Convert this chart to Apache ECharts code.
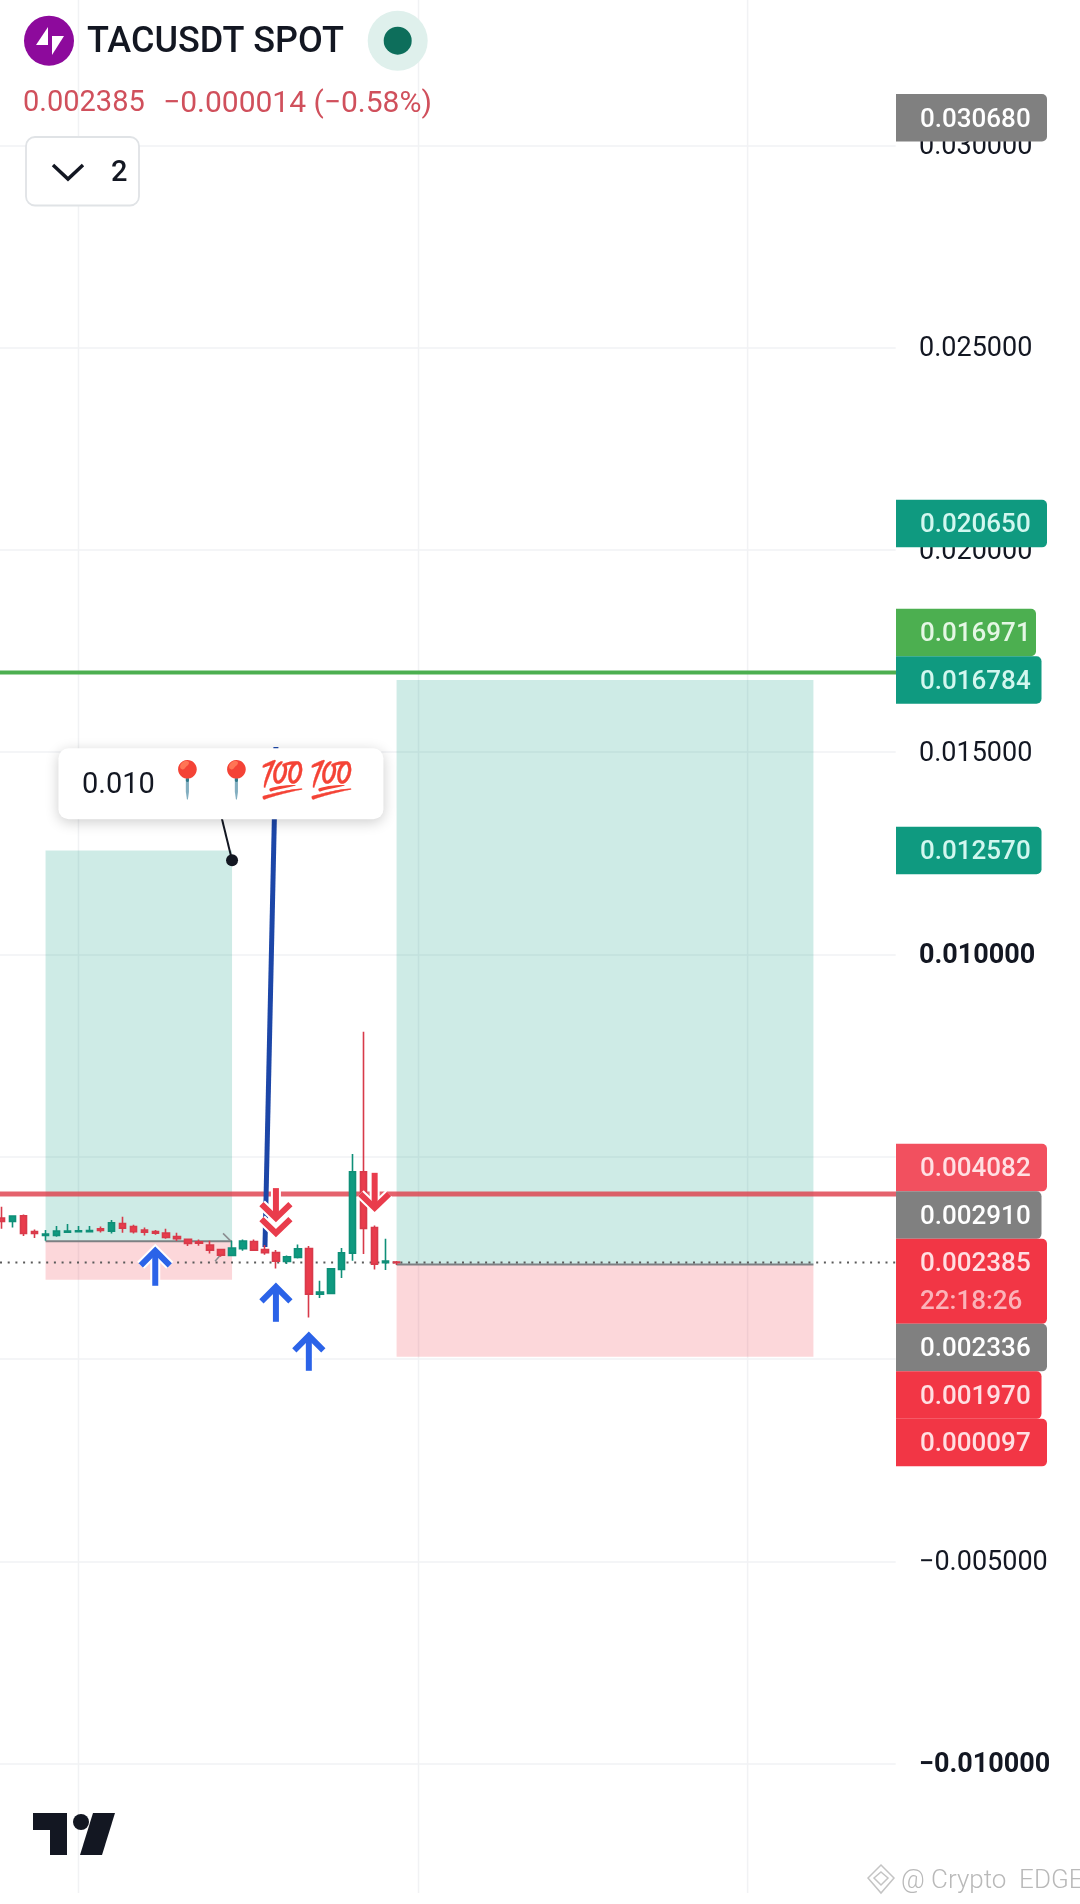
<!DOCTYPE html>
<html><head><meta charset="utf-8">
<style>html,body{margin:0;padding:0;background:#fff}#c{width:1080px;height:1904px}</style>
<script src="https://cdn.jsdelivr.net/npm/echarts@6/dist/echarts.min.js"></script>
</head><body><div id="c"></div>
<script>
const opens =[.003485,.003403,.003543,.003155,.003057,.003057,.003139,.003147,.003147,.003221,.003164,.003353,.003279,.003188,.003155,.003114,.003032,.002958,.002900,.002818,.002710,.002562,.002727,.002908,.002710,.002636,.002414,.002513,.002735,.001607,.001623,.002216,.002620,.004630,.003254,.002381,.002397];
const closes=[.003403,.003534,.003106,.003106,.003089,.003164,.003164,.003172,.003180,.003180,.003370,.003238,.003147,.003139,.003114,.003007,.002974,.002859,.002867,.002694,.002570,.002743,.002916,.002694,.002628,.002422,.002529,.002727,.001607,.001656,.002233,.002628,.004630,.003230,.002348,.002422,.002385];
const lows  =[.003221,.003254,.003040,.002991,.002925,.003024,.003131,.003131,.003131,.003131,.003106,.003122,.003106,.003057,.003073,.002974,.002916,.002793,.002801,.002612,.002529,.002562,.002678,.002694,.002579,.002241,.002348,.002488,.001030,.001508,.001623,.002002,.002430,.002595,.002216,.002200,.002323];
const highs =[.003765,.003534,.003576,.003205,.003188,.003287,.003337,.003287,.003287,.003279,.003435,.003518,.003320,.003254,.003188,.003221,.003122,.002974,.002958,.002925,.002727,.002925,.002958,.002958,.002818,.002694,.002562,.002834,.002793,.001936,.002233,.002743,.005067,.008090,.003304,.002974,.002422];
const slots = 82;
const categories = Array.from({length:slots},(_,i)=>String(i));
const gridMarks = [7.15,37.9,67.9];
const tagValues = [0.030680,0.020650,0.016971,0.016784,0.012570,0.004082,0.002910,0.002385,0.002336,0.001970,0.000097];
const tagKinds  = ['gray','teal','green','teal','teal','rose','gray','red','gray','red','red'];
const countdown = '22:18:26';
const lastPrice = 0.002385;
const lineLevels = [0.016971,0.004082];
const boxStart=[3.9,35.8], boxEnd=[21.2,73.85], boxTop=[0.012570,0.016784], boxEntry=[0.002910,0.002336], boxStop=[0.001960,0.000060];
const upIdx=[14,25,28], upPrice=[0.002776,0.001886,0.000675];
const downIdx=[25,34], downPrice=[0.003015,0.003640], downCount=[2,1];
const trendX=[23.9,24.9], trendY=[0.00277,0.01513];
const noteIdx=21.05, notePrice=0.01233, noteLabel='0.010', noteEmoji=['📍','📍','💯','💯'];
const yMin=-0.015,yMax=0.035,yStep=0.005;

const FONT='Roboto';
const tagColors={gray:'#808080',teal:'#0f9a80',green:'#4caf50',rose:'#f2505f',red:'#f23645'};
const tagInk={gray:'#ffffff',teal:'#d2f7ef',green:'#e4f7e4',rose:'#ffe0e3',red:'#ffdfe2'};
const TOP=-57, H=2023, GL=-3.8, GW=899.5, VB=1893;

function tagLayout(api){
  const h=47.5, dbl=85, res=tagValues.map(v=>api.coord([0,v])[1]);
  const pin=tagValues.indexOf(lastPrice), top=[],bot=[];
  top[pin]=res[pin]-h/2; bot[pin]=top[pin]+dbl;
  for(let i=pin-1;i>=0;i--){const b=Math.min(res[i]+h/2,top[i+1]);bot[i]=b;top[i]=b-h;}
  for(let i=pin+1;i<tagValues.length;i++){const t=Math.max(res[i]-h/2,bot[i-1]);top[i]=t;bot[i]=t+h;}
  return {top,bot};
}
function stroke(points,color,w,extra){return Object.assign({type:'polyline',shape:{points},style:{stroke:color,lineWidth:w,fill:null,lineJoin:'miter',lineCap:'butt'}},extra||{});}
const midText={textVerticalAlign:'middle',textBaseline:'middle'};
const option={
  animation:false,backgroundColor:'#ffffff',
  grid:{left:GL,top:TOP,width:GW,height:H,containLabel:false,outerBoundsMode:'none'},
  xAxis:{type:'category',data:categories,boundaryGap:true,axisLine:{show:false},axisTick:{show:false},axisLabel:{show:false},splitLine:{show:false}},
  yAxis:{type:'value',position:'right',min:yMin,max:yMax,interval:yStep,
    axisLine:{show:false},axisTick:{show:false},
    splitLine:{show:true,lineStyle:{color:'#f1f2f4',width:1.5}},
    axisLabel:{margin:23.3,padding:[4,0,0,0],fontFamily:FONT,fontSize:27,color:'#131722',
      formatter:v=>{const s=(v<-1e-9?'\u2212':'')+Math.abs(v).toFixed(6);return Math.abs(Math.abs(v)-0.01)<1e-9?'{b|'+s+'}':s;},
      rich:{b:{fontFamily:FONT,fontSize:27,fontWeight:'bold',color:'#131722'}}}},
  series:[
   {type:'custom',name:'vgrid',z:1,silent:true,clip:false,data:gridMarks.map(i=>[i]),
    renderItem:(p,api)=>{const x=api.coord([gridMarks[p.dataIndex],0])[0];return {type:'line',shape:{x1:x,y1:0,x2:x,y2:VB},style:{stroke:'#f1f2f4',lineWidth:1.5}};}},
   {type:'custom',name:'positions',z:2,silent:true,clip:false,data:boxStart.map((s,i)=>[i]),
    renderItem:(p,api)=>{const i=p.dataIndex;
      const a=api.coord([boxStart[i],boxTop[i]]),b=api.coord([boxEnd[i],boxEntry[i]]),c=api.coord([boxStart[i],boxStop[i]]);
      const kids=[
       {type:'rect',shape:{x:a[0],y:a[1],width:b[0]-a[0],height:b[1]-a[1]},style:{fill:'rgba(8,153,129,0.2)'}},
       {type:'rect',shape:{x:a[0],y:b[1],width:b[0]-a[0],height:c[1]-b[1]},style:{fill:'rgba(242,54,69,0.2)'}},
       {type:'line',shape:{x1:a[0],y1:b[1],x2:b[0],y2:b[1]},style:{stroke:'#7d8083',lineWidth:2}}];
      if(i===0){kids.push(stroke([[b[0]-9,b[1]-8],[b[0]-1,b[1]]],'#8a8d90',1.5),stroke([[b[0]-17,b[1]+20],[b[0]-10,b[1]+12]],'#8a8d90',1.5));}
      return {type:'group',children:kids};}},
   {type:'custom',name:'levels',z:3,silent:true,clip:false,data:lineLevels.map(v=>[v]),
    renderItem:(p,api)=>{const y=api.coord([0,api.value(0)])[1];const green=p.dataIndex===0;
      return {type:'line',shape:{x1:0,y1:y,x2:896,y2:y},style:{stroke:green?'#4caf50':'rgba(222,60,72,0.8)',lineWidth:green?4:5}};}},
   {type:'custom',name:'last',z:3,silent:true,clip:false,data:[[lastPrice]],
    renderItem:(p,api)=>{const y=api.coord([0,api.value(0)])[1];
      return {type:'line',shape:{x1:0,y1:y,x2:896,y2:y},style:{stroke:'#5a5a5a',lineWidth:2,lineDash:[2,5.7]}};}},
   {type:'custom',name:'trend',z:3,silent:true,clip:false,data:[[0]],
    renderItem:(p,api)=>{const a=api.coord([trendX[0],trendY[0]]),b=api.coord([trendX[1],trendY[1]]);
      return {type:'line',shape:{x1:a[0],y1:a[1],x2:b[0],y2:b[1]},style:{stroke:'#1c46a8',lineWidth:5}};}},
   {type:'candlestick',name:'TACUSDT',z:4,barWidth:7,
    data:opens.map((o,i)=>[o,closes[i],lows[i],highs[i]]),
    itemStyle:{color:'#0f9a80',color0:'#e93c4c',borderColor:'#0f8f78',borderColor0:'#d83a4a',borderWidth:1.6}},
   {type:'custom',name:'up',z:5,silent:true,clip:false,data:upIdx.map((x,i)=>[x,upPrice[i]]),
    renderItem:(p,api)=>{const c=api.coord([api.value(0),api.value(1)]),x=c[0],y=c[1]+4;
      const head=[[x-14.5,y+14.5],[x,y],[x+14.5,y+14.5]],shaft=[[x,y],[x,y+35]];
      return {type:'group',children:[stroke(shaft,'#fff',10),stroke(head,'#fff',10),stroke(shaft,'#2b63e8',6),stroke(head,'#2b63e8',6)]};}},
   {type:'custom',name:'down',z:5,silent:true,clip:false,data:downIdx.map((x,i)=>[x,downPrice[i],downCount[i]]),
    renderItem:(p,api)=>{const c=api.coord([api.value(0),api.value(1)]),x=c[0],y=c[1]-4,n=api.value(2);
      const kids=[],all=[];
      const shaftTop=n===2?y-45:y-35;
      const heads=n===2?[y,y-15]:[y];
      all.push([[x,n===2?y-15:y],[x,shaftTop]]);
      heads.forEach(t=>all.push([[x-14.5,t-14],[x,t],[x+14.5,t-14]]));
      all.forEach(s=>kids.push(stroke(s,'#fff',10)));
      all.forEach(s=>kids.push(stroke(s,'#e93c4c',6)));
      return {type:'group',children:kids};}},
   {type:'custom',name:'tags',z:6,silent:true,clip:false,data:tagValues.map((v,i)=>[v,i]),
    renderItem:(p,api)=>{const i=p.dataIndex,L=tagLayout(api),v=tagValues[i],txt=v.toFixed(6),kind=tagKinds[i];
      const ones=(txt.match(/1/g)||[]).length,w=151-5.5*ones,top=L.top[i],h=L.bot[i]-top;
      const kids=[{type:'rect',shape:{x:896,y:top,width:w,height:h,r:[0,5,5,0]},style:{fill:tagColors[kind]}},
       {type:'text',style:Object.assign({x:920,y:top+26,text:txt,fill:tagInk[kind],font:'500 26px '+FONT},midText)}];
      if(v===lastPrice)kids.push({type:'text',style:Object.assign({x:920,y:top+64,text:countdown,fill:'#fbb3b9',font:'500 26px '+FONT},midText)});
      return {type:'group',children:kids};}},
   {type:'custom',name:'note',z:7,silent:true,clip:false,data:[[0]],
    renderItem:(p,api)=>{const c=api.coord([noteIdx,notePrice]),x=c[0],y=c[1];
      const kids=[
       {type:'line',shape:{x1:x,y1:y,x2:x-11,y2:y-45},style:{stroke:'#131722',lineWidth:2}},
       {type:'circle',shape:{cx:x,cy:y,r:6},style:{fill:'#131722'}},
       {type:'rect',shape:{x:x-173.6,y:y-112,width:325,height:71,r:10},style:{fill:'#fff',shadowBlur:14,shadowColor:'rgba(0,0,0,0.2)',shadowOffsetY:3}},
       {type:'text',style:Object.assign({x:x-150,y:y-74,text:noteLabel,fill:'#131722',font:'29px '+FONT},midText)}];
      [-45,4,50,99].forEach((dx,i)=>kids.push({type:'text',style:Object.assign({x:x+dx,y:y-77,text:noteEmoji[i],align:'center',textAlign:'center',font:'36px '+FONT},midText)}));
      return {type:'group',children:kids};}}
  ],
  graphic:[
   {type:'circle',shape:{cx:49,cy:40.7,r:25},style:{fill:'#8d0a9c'},z:20},
   {type:'polygon',shape:{points:[[48,27],[36,45],[48,45]]},style:{fill:'#fff'},z:21},
   {type:'polygon',shape:{points:[[52,36],[64,36],[52,55]]},style:{fill:'#fff'},z:21},
   {type:'text',style:Object.assign({x:87,y:43,text:'TACUSDT SPOT',fill:'#131722',font:'500 36px '+FONT},midText),z:20},
   {type:'circle',shape:{cx:397.7,cy:40.7,r:30},style:{fill:'#dff0ec'},z:20},
   {type:'circle',shape:{cx:397.7,cy:40.7,r:14},style:{fill:'#0d6e5b'},z:21},
   {type:'text',style:Object.assign({x:23,y:104,text:'0.002385',fill:'#d0505c',font:'29px '+FONT},midText),z:20},
   {type:'text',style:Object.assign({x:163,y:104,text:'\u22120.000014 (\u22120.58%)',fill:'#d0505c',font:'30px '+FONT},midText),z:20},
   {type:'rect',shape:{x:26,y:137,width:113,height:68.5,r:9},style:{fill:'#fff',stroke:'#e0e3e6',lineWidth:1.8},z:20},
   {type:'polyline',shape:{points:[[53,165],[68,179],[83,165]]},style:{stroke:'#131722',lineWidth:3.5,fill:null},z:21},
   {type:'text',style:Object.assign({x:111,y:174,text:'2',fill:'#131722',font:'500 29px '+FONT},midText),z:21},
   {type:'polygon',shape:{points:[[33,1813],[67,1813],[67,1855],[50,1855],[50,1830],[33,1830]]},style:{fill:'#131722'},z:20},
   {type:'circle',shape:{cx:81,cy:1822,r:8},style:{fill:'#131722'},z:20},
   {type:'polygon',shape:{points:[[93,1813],[115,1813],[102,1855],[80,1855]]},style:{fill:'#131722'},z:20},
   {type:'polygon',shape:{points:[[881,1865],[894,1878],[881,1893],[868,1878]]},style:{stroke:'#c4c4c4',lineWidth:1.5,fill:null},z:20},
   {type:'polygon',shape:{points:[[881,1872],[888,1878],[881,1885],[874,1878]]},style:{stroke:'#c4c4c4',lineWidth:1.5,fill:null},z:20},
   {type:'text',style:Object.assign({x:901,y:1881,text:'@ Crypto  EDGE',fill:'#b9b9b9',font:'300 26px '+FONT},midText),z:20}
  ]
};
const chart=echarts.init(document.getElementById('c'),null,{renderer:'canvas',width:1080,height:1904});
chart.setOption(option);
</script></body></html>
